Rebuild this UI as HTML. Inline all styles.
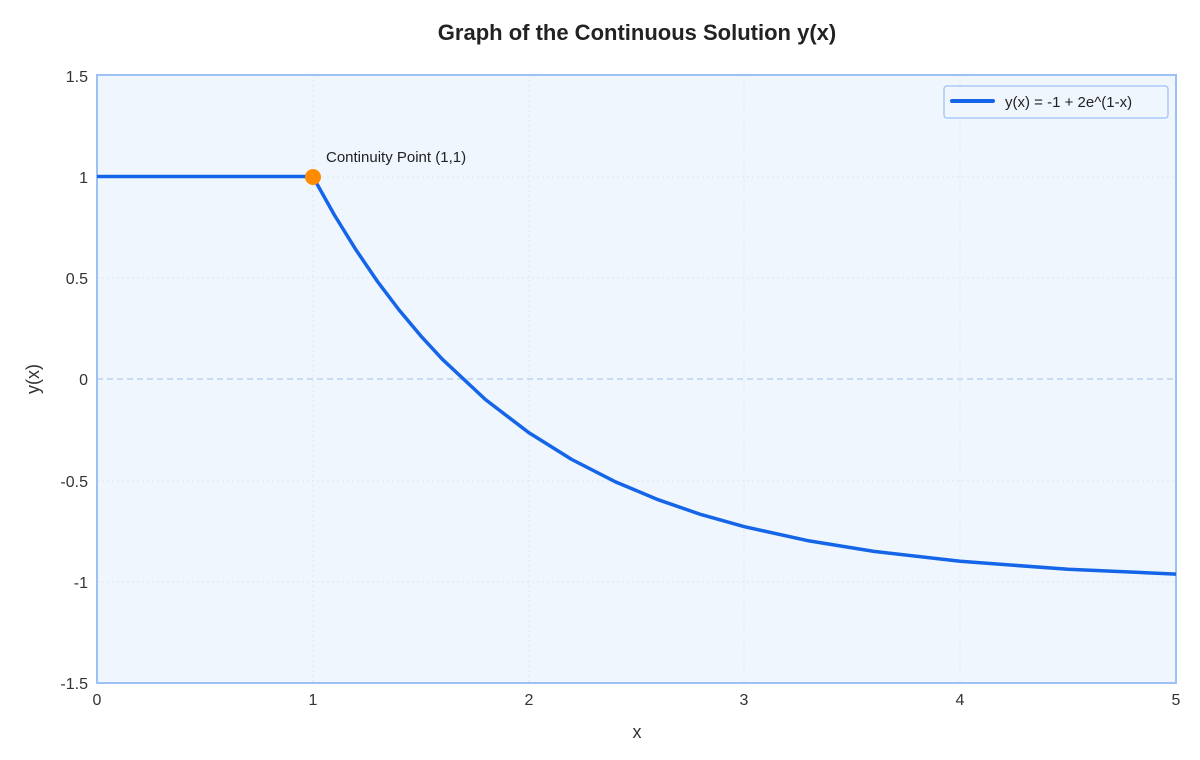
<!DOCTYPE html>
<html><head><meta charset="utf-8"><style>
body{margin:0;background:#fff;}
svg{display:block;font-family:"Liberation Sans",sans-serif;}
</style></head><body>
<svg width="1200" height="760" viewBox="0 0 1200 760">
<rect width="1200" height="760" fill="#fff"/>
<text x="637" y="40" text-anchor="middle" font-size="22" font-weight="bold" fill="#222">Graph of the Continuous Solution y(x)</text>
<rect x="97" y="75" width="1079" height="608" fill="#f0f6fe"/>
<g stroke="#dde6f2" stroke-width="1" stroke-dasharray="2,3">
<line x1="313" y1="75" x2="313" y2="683"/><line x1="529" y1="75" x2="529" y2="683"/>
<line x1="744" y1="75" x2="744" y2="683"/><line x1="960" y1="75" x2="960" y2="683"/>
<line x1="97" y1="177" x2="1176" y2="177"/><line x1="97" y1="278" x2="1176" y2="278"/>
<line x1="97" y1="481" x2="1176" y2="481"/><line x1="97" y1="582" x2="1176" y2="582"/>
</g>
<line x1="97" y1="379" x2="1176" y2="379" stroke="#bcd3ee" stroke-width="1.5" stroke-dasharray="6,4"/>
<rect x="97" y="75" width="1079" height="608" fill="none" stroke="#9dc0f5" stroke-width="2"/>
<polyline fill="none" stroke="#1565e8" stroke-width="3.5" stroke-linejoin="round" points="97,176.5 312.8,176.5 334.4,215 356,249.9 377.5,281.5 399.1,310 420.7,335.8 442.3,359.2 485.4,399.5 528.6,432.5 571.8,459.5 614.9,481.6 658.1,499.7 701.2,514.6 744.4,526.7 809.1,540.9 873.9,551.4 960.2,561.3 1068.1,569.3 1176,574.1"/>
<circle cx="313" cy="177" r="8" fill="#ff8c00"/>
<text x="326" y="162" font-size="15" fill="#222">Continuity Point (1,1)</text>
<g font-size="16" fill="#333" text-anchor="end">
<text x="88" y="82">1.5</text><text x="88" y="183">1</text><text x="88" y="284">0.5</text>
<text x="88" y="385">0</text><text x="88" y="487">-0.5</text><text x="88" y="588">-1</text><text x="88" y="689">-1.5</text>
</g>
<g font-size="16" fill="#333" text-anchor="middle">
<text x="97" y="705">0</text><text x="313" y="705">1</text><text x="529" y="705">2</text>
<text x="744" y="705">3</text><text x="960" y="705">4</text><text x="1176" y="705">5</text>
</g>
<text x="637" y="738" font-size="18" fill="#333" text-anchor="middle">x</text>
<text transform="translate(39,379) rotate(-90)" font-size="18" fill="#333" text-anchor="middle">y(x)</text>
<rect x="944" y="86" width="224" height="32" rx="3" fill="#f0f6fe" stroke="#a9c8f5" stroke-width="1.5"/>
<line x1="952" y1="101" x2="993" y2="101" stroke="#1565e8" stroke-width="4" stroke-linecap="round"/>
<text x="1005" y="107" font-size="15" fill="#222">y(x) = -1 + 2e^(1-x)</text>
</svg>
</body></html>
